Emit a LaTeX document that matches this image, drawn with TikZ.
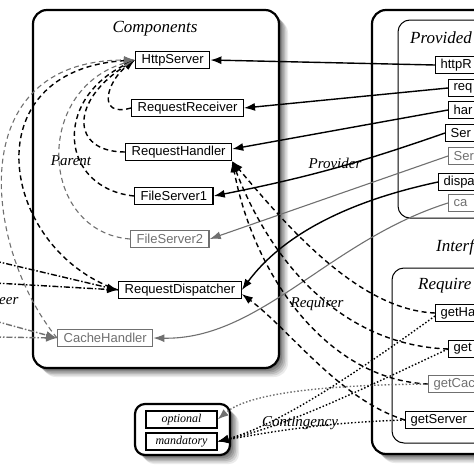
\documentclass[tikz,border=0pt]{standalone}
\usepackage{fontspec}
\setmainfont{Liberation Serif}
\setsansfont{Liberation Sans}
\usetikzlibrary{arrows.meta}
\definecolor{grayc}{RGB}{112,112,112}
\begin{document}
\begin{tikzpicture}[x=1pt,y=-1pt,
  comp/.style={draw, line width=1.3pt, font=\sffamily\fontsize{13}{14}\selectfont, inner xsep=6pt, inner ysep=0pt, minimum height=17pt, fill=white, anchor=west},
  compg/.style={comp, draw=grayc, text=grayc},
  iface/.style={comp, inner xsep=5pt, text width=90pt, align=left},
  ifaceg/.style={iface, draw=grayc, text=grayc},
  lbl/.style={font=\itshape\fontsize{15}{16}\selectfont, inner sep=1pt},
  ttl/.style={font=\itshape\fontsize{17}{18}\selectfont, inner sep=0pt},
  small/.style={draw, line width=1.2pt, minimum width=71pt, minimum height=17pt, inner sep=0pt, fill=white, font=\itshape\fontsize{12}{13}\selectfont},
  prov/.style={-{Latex[length=11pt,width=8pt]}, line width=1.4pt},
  provg/.style={prov, draw=grayc, line width=1.1pt},
  par/.style={prov, dash pattern=on 5pt off 3.5pt},
  parg/.style={par, draw=grayc, line width=1.1pt},
  peer/.style={prov, dash pattern=on 6pt off 2pt on 1.5pt off 2pt},
  peerg/.style={peer, draw=grayc},
  cont/.style={prov, dash pattern=on 1.5pt off 2pt},
  contg/.style={cont, draw=grayc},
  box/.style={draw, line width=2.2pt, fill=white},
  inbox/.style={draw, line width=1pt, fill=white, rounded corners=12pt}
]
\useasboundingbox (0,0) rectangle (474,474);
\clip (0,0) rectangle (474,474);
% shadows
\foreach \s/\o in {9/0.08,7.5/0.1,6/0.12,4.5/0.14,3/0.16,1.5/0.18} {
  \fill[black, opacity=\o, rounded corners=14pt] (33+\s,10+\s) rectangle (279+\s,368+\s);
  \fill[black, opacity=\o, rounded corners=14pt] (372+\s,10+\s) rectangle (520+\s,454+\s);
  \fill[black, opacity=\o, rounded corners=10pt] (135+\s,404+\s) rectangle (230+\s,455+\s);
}
% containers
\draw[box, rounded corners=14pt] (33,10) rectangle (279,368);
\draw[box, rounded corners=14pt] (372,10) rectangle (520,454);
\draw[inbox] (398,20) rectangle (510,218);
\draw[inbox] (392,268) rectangle (510,443);
\draw[box, rounded corners=10pt] (135,404) rectangle (230,455);
% titles
\node[ttl] (tComp) at (155,29) {Components};
\node[ttl, anchor=west] (tProv) at (410,38) {Provided};
\node[ttl, anchor=west] (tInt) at (436,247) {Interf};
\node[ttl, anchor=west] (tReq) at (418,286) {Require};
% component nodes
\node[comp] (HttpServer) at (135,60) {HttpServer};
\node[comp] (RequestReceiver) at (131,108) {RequestReceiver};
\node[comp] (RequestHandler) at (125,152) {RequestHandler};
\node[comp] (FileServer1) at (134,196) {FileServer1};
\node[compg] (FileServer2) at (130,239) {FileServer2};
\node[comp] (RequestDispatcher) at (118,290) {RequestDispatcher};
\node[compg] (CacheHandler) at (57,338) {CacheHandler};
% provided interfaces
\node[iface] (httpR) at (435,65) {httpR};
\node[iface] (req) at (448,88) {req};
\node[iface] (har) at (448,110) {har};
\node[iface] (Ser) at (445,133) {Ser};
\node[ifaceg] (SerG) at (448,156) {Ser};
\node[iface] (dispa) at (438,182) {dispa};
\node[ifaceg] (ca) at (448,203) {ca};
% required interfaces
\node[iface] (getHa) at (435,313) {getHa};
\node[iface] (get) at (448,349) {get};
\node[ifaceg] (getCac) at (428,384) {getCac};
\node[iface] (getServer) at (405,420) {getServer};
% legend
\node[small] (optional) at (181.5,419.5) {optional};
\node[small] (mandatory) at (181.5,441.5) {mandatory};
% peer ends
\coordinate (p1) at (-5,261);
\coordinate (p2) at (-5,283);
\coordinate (p3) at (-5,321);
\coordinate (p4) at (-5,337);
% labels
\node[lbl] (lParent) at (71,161) {Parent};
\node[lbl] (lProvider) at (335,163) {Provider};
\node[lbl] (lRequirer) at (317,304) {Requirer};
\node[lbl] (lCont) at (300,423) {Contingency};
\node[lbl, anchor=west, inner sep=0pt] (lPeer) at (-1,301) {eer};
% provider edges
\draw[prov] (httpR.west) -- (HttpServer.east);
\draw[prov] (req.west) -- (RequestReceiver.east);
\draw[prov] (har.west) -- ([yshift=3pt]RequestHandler.east);
\draw[prov] (Ser.west) to[bend left=4] (FileServer1.east);
\draw[provg] (SerG.west) -- (FileServer2.east);
\draw[prov] (dispa.west) .. controls (330,205) and (275,245) .. (RequestDispatcher.east);
\draw[provg] (ca.west) .. controls (330,240) and (260,340) .. (CacheHandler.east);
% parent edges
\draw[par] (RequestReceiver.west) .. controls (95,118) and (108,80) .. (HttpServer.west);
\draw[par] (RequestHandler.west) .. controls (70,152) and (70,100) .. (HttpServer.west);
\draw[par] (FileServer1.west) .. controls (60,188) and (52,100) .. (HttpServer.west);
\draw[parg] (FileServer2.west) .. controls (40,232) and (32,90) .. (HttpServer.west);
\draw[par] (RequestDispatcher.west) .. controls (0,250) and (-30,70) .. (HttpServer.west);
\draw[parg] (CacheHandler.west) .. controls (-15,250) and (-40,60) .. (HttpServer.west);
% peer edges
\draw[peer] (p1) -- (RequestDispatcher.west);
\draw[peer] (p2) -- (RequestDispatcher.west);
\draw[peerg] (p3) -- (CacheHandler.west);
\draw[peerg] (p4) -- (CacheHandler.west);
% requirer edges
\draw[par] (getHa.west) .. controls (360,310) and (290,230) .. (RequestHandler.south east);
\draw[par] (get.west) .. controls (340,345) and (270,260) .. (RequestHandler.south east);
\draw[par] (getCac.west) .. controls (330,380) and (255,280) .. (RequestHandler.south east);
\draw[par] (getServer.west) .. controls (340,400) and (290,330) .. ([yshift=-4pt]RequestDispatcher.east);
% contingency edges
\draw[contg] (getCac.west) .. controls (330,385) and (250,392) .. (optional.east);
\draw[cont] ([yshift=-3pt]getHa.west) .. controls (360,370) and (280,425) .. (mandatory.east);
\draw[cont] (get.west) .. controls (360,390) and (290,425) .. (mandatory.east);
\draw[cont] (getServer.west) .. controls (340,422) and (290,428) .. (mandatory.east);
\end{tikzpicture}
\end{document}
